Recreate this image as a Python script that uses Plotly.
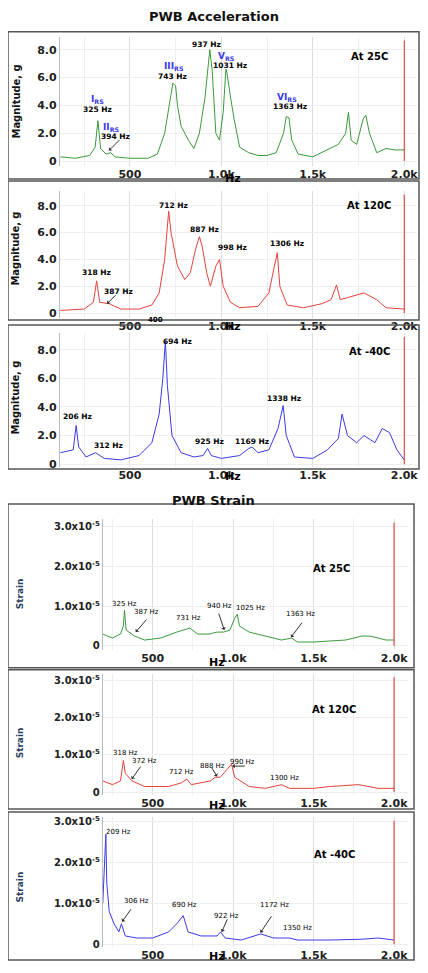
import plotly.graph_objects as go

OFF = 8
W, H = 428 - OFF * 2, 973 - OFF * 2

def fx_(p):
    return (p - OFF) / W

def fy_(p):
    return 1 - (p - OFF) / H

acc25_f = [120,200,280,310,325,340,370,394,420,500,600,650,690,720,735,750,760,780,820,850,880,910,930,937,950,970,990,1010,1025,1031,1050,1070,1100,1150,1200,1250,1300,1340,1355,1370,1385,1420,1500,1580,1640,1680,1695,1710,1740,1775,1790,1810,1850,1900,1950,2000]
acc25_v = [0.3,0.2,0.4,1.0,2.9,0.9,0.5,0.6,0.3,0.2,0.2,0.5,2.0,4.5,5.6,5.4,4.0,2.5,1.5,0.9,2.0,4.5,7.2,8.0,6.5,2.0,1.5,3.5,6.6,6.3,4.6,3.0,1.0,0.6,0.4,0.4,0.6,2.0,3.2,3.1,1.5,0.5,0.3,0.8,1.2,2.0,3.5,1.5,1.2,3.0,3.3,2.0,0.6,0.9,0.8,0.8]
acc120_f = [120,250,300,318,335,387,450,550,620,660,690,712,725,760,800,830,860,880,895,920,940,970,990,1010,1050,1100,1200,1260,1290,1306,1320,1360,1450,1550,1600,1630,1650,1700,1780,1850,1900,2000]
acc120_v = [0.2,0.3,0.8,2.4,0.8,0.7,0.3,0.3,0.6,1.5,4.0,7.6,6.0,3.5,2.5,3.0,4.8,5.7,5.0,3.0,2.0,3.5,4.0,2.0,0.8,0.4,0.5,1.5,3.5,4.5,2.0,0.6,0.4,0.7,1.0,2.1,1.0,1.2,1.5,1.0,0.4,0.3]
accm40_f = [120,190,206,220,260,312,360,450,550,620,660,680,694,705,730,780,850,900,925,945,1000,1100,1150,1169,1200,1260,1310,1338,1355,1400,1500,1580,1640,1660,1690,1740,1780,1840,1880,1920,1960,2000]
accm40_v = [0.8,1.0,2.7,1.2,0.5,0.8,0.4,0.3,0.6,1.5,3.5,6.0,8.6,5.5,2.0,0.8,0.5,0.6,1.1,0.6,0.4,0.6,1.1,1.2,0.8,1.0,2.5,4.1,2.0,0.5,0.4,1.0,1.8,3.5,2.0,1.5,2.0,1.5,2.5,2.2,1.0,0.3]

s25_f = [190,250,300,318,325,335,387,450,550,650,731,780,850,900,940,980,1010,1025,1040,1100,1200,1300,1363,1400,1500,1700,1800,1850,1950,2000]
s25_v = [0.3,0.2,0.3,0.5,0.9,0.4,0.25,0.15,0.2,0.35,0.45,0.3,0.3,0.35,0.35,0.4,0.7,0.8,0.5,0.35,0.25,0.15,0.2,0.1,0.1,0.15,0.25,0.25,0.15,0.15]
s120_f = [190,250,300,318,330,372,450,600,680,712,740,800,860,888,920,960,990,1010,1100,1200,1300,1350,1500,1600,1780,1900,2000]
s120_v = [0.3,0.2,0.3,0.85,0.5,0.3,0.15,0.15,0.25,0.35,0.2,0.25,0.3,0.4,0.4,0.6,0.75,0.4,0.15,0.1,0.2,0.1,0.1,0.15,0.2,0.1,0.1]
sm40_f = [190,200,209,215,230,260,290,306,330,400,500,600,650,690,720,800,900,922,950,1050,1172,1250,1350,1400,1600,1800,1900,2000]
sm40_v = [1.0,2.0,2.7,1.5,0.8,0.5,0.3,0.5,0.2,0.15,0.15,0.3,0.5,0.7,0.3,0.2,0.2,0.3,0.15,0.1,0.25,0.15,0.15,0.1,0.1,0.12,0.15,0.1]

acc_ticks = [0, 2, 4, 6, 8]
acc_tick_text = ["0", "2.0", "4.0", "6.0", "8.0"]
str_ticks = [0, 1, 2, 3]
str_tick_text = ["0", "1.0x10<sup>-5</sup>", "2.0x10<sup>-5</sup>", "3.0x10<sup>-5</sup>"]
x_ticks = [500, 1000, 1500, 2000]
x_tick_text = ["500", "1.0k", "1.5k", "2.0k"]

GREEN, RED, BLUE = "#3a9a3a", "#e8403a", "#3a3ae8"

panels = [
    (acc25_f, acc25_v, GREEN, (60, 418), (117, 2070), (35, 165), 160, 48, 8, "acc"),
    (acc120_f, acc120_v, RED, (60, 418), (117, 2070), (190, 318), 313, 205, 8, "acc"),
    (accm40_f, accm40_v, BLUE, (60, 418), (117, 2070), (333, 468), 465, 350, 8, "acc"),
    (s25_f, s25_v, GREEN, (103, 410), (190, 2093), (520, 652), 648, 528, 3, "str"),
    (s120_f, s120_v, RED, (103, 410), (190, 2093), (676, 798), 795, 683, 3, "str"),
    (sm40_f, sm40_v, BLUE, (103, 410), (190, 2093), (820, 951), 948, 825, 3, "str"),
]

fig = go.Figure()
layout = {}
for i, (xs, vs, col, xpx, xr, ydom, y0, yt, ytv, kind) in enumerate(panels):
    n = "" if i == 0 else str(i + 1)
    fig.add_trace(go.Scatter(x=xs, y=vs, mode="lines", line=dict(color=col, width=1),
                             xaxis="x" + n, yaxis="y" + n, showlegend=False))
    ppu = (y0 - yt) / ytv
    ylo = -(ydom[1] - y0) / ppu
    yhi = (y0 - ydom[0]) / ppu
    layout["xaxis" + n] = dict(domain=[fx_(xpx[0]), min(1, fx_(xpx[1]))], range=list(xr), anchor="y" + n,
                               tickvals=x_ticks, ticktext=["<b>%s</b>" % t for t in x_tick_text], showgrid=True,
                               gridcolor="#dddddd", minor=dict(dtick=250, showgrid=True, gridcolor="#eeeeee"),
                               tickfont=dict(size=11, family="DejaVu Sans", color="#222"),
                               ticks="", zeroline=False, showline=False, ticklabelstandoff=0)
    layout["yaxis" + n] = dict(domain=[fy_(ydom[1]), fy_(ydom[0])], range=[ylo, yhi], anchor="x" + n,
                               tickvals=acc_ticks if kind == "acc" else str_ticks,
                               ticktext=["<b>%s</b>" % t for t in (acc_tick_text if kind == "acc" else str_tick_text)],
                               showgrid=True, gridcolor="#eeeeee", zeroline=False,
                               tickfont=dict(size=11 if kind == "acc" else 10, family="DejaVu Sans", color="#222"),
                               ticks="", showline=True, linecolor="#bbbbbb")
    fig.add_shape(type="line", x0=2000, x1=2000, y0=0, y1=yhi * 0.97, xref="x" + n, yref="y" + n,
                  line=dict(color="#e03030", width=1))

fig.update_layout(**layout)

fr = [(2, 30, 420, 178), (2, 180, 420, 320), (2, 325, 420, 470),
      (5, 505, 415, 670), (5, 672, 415, 812), (5, 815, 415, 964)]
for x0, y0, x1, y1 in fr:
    fig.add_shape(type="rect", xref="paper", yref="paper", x0=fx_(max(x0, OFF)), x1=fx_(x1),
                  y0=fy_(y1), y1=fy_(y0), line=dict(color="#555", width=1.5))

def ann(text, xr, yr, x, y, size=8, color="black", ax=None, ay=None, bold=True):
    t = "<b>%s</b>" % text if bold else text
    d = dict(text=t, xref=xr, yref=yr, x=x, y=y, font=dict(size=size, color=color, family="DejaVu Sans"),
             showarrow=ax is not None, xanchor="center", yanchor="middle")
    if ax is not None:
        d.update(ax=ax, ay=ay, arrowhead=1, arrowsize=0.8, arrowwidth=1, arrowcolor="#333")
    fig.add_annotation(**d)

def pann(text, x, y, **k):
    ann(text, "paper", "paper", fx_(x), fy_(y), **k)

pann("PWB Acceleration", 215, 15, size=13, color="#111")
pann("PWB Strain", 214, 502, size=13, color="#111")
for (px, py, t) in [(370, 55, "At 25C"), (370, 205, "At 120C"), (370, 352, "At -40C"),
                    (332, 570, "At 25C"), (335, 712, "At 120C"), (335, 858, "At -40C")]:
    pann(t, px, py, size=10)
for py in [100, 248, 398]:
    fig.add_annotation(text="<b>Magnitude, g</b>", xref="paper", yref="paper", x=fx_(16), y=fy_(py),
                       textangle=-90, showarrow=False, xanchor="center", yanchor="middle",
                       font=dict(size=11, family="Liberation Sans Narrow, DejaVu Sans Condensed", color="#111"))
for py in [595, 745, 890]:
    fig.add_annotation(text="<b>Strain</b>", xref="paper", yref="paper", x=fx_(20), y=fy_(py),
                       textangle=-90, showarrow=False, xanchor="center", yanchor="middle",
                       font=dict(size=9, family="DejaVu Sans"))
for px, py in [(234, 178), (234, 326), (234, 477), (218, 665), (218, 809), (218, 960)]:
    pann("Hz", px, py, size=11)
pann("400", 156, 320, size=7)

ann("I<sub>RS</sub>", "x", "y", 325, 4.4, size=9, color="#3a3ae8")
ann("325 Hz", "x", "y", 325, 3.7, size=7.5)
ann("II<sub>RS</sub>", "x", "y", 400, 2.4, size=9, color="#3a3ae8")
ann("394 Hz", "x", "y", 420, 1.8, size=7.5)
ann("", "x", "y", 385, 0.75, ax=12, ay=-12)
ann("III<sub>RS</sub>", "x", "y", 740, 6.8, size=9, color="#3a3ae8")
ann("743 Hz", "x", "y", 735, 6.1, size=7.5)
ann("IV<sub>RS</sub>", "x", "y", 925, 9.0, size=9, color="#3a3ae8")
ann("937 Hz", "x", "y", 920, 8.4, size=7.5)
ann("V<sub>RS</sub>", "x", "y", 1030, 7.5, size=9, color="#3a3ae8")
ann("1031 Hz", "x", "y", 1045, 6.9, size=7.5)
ann("VI<sub>RS</sub>", "x", "y", 1360, 4.6, size=9, color="#3a3ae8")
ann("1363 Hz", "x", "y", 1375, 3.9, size=7.5)
ann("712 Hz", "x2", "y2", 740, 8.0, size=7.5)
ann("887 Hz", "x2", "y2", 910, 6.2, size=7.5)
ann("998 Hz", "x2", "y2", 1060, 4.9, size=7.5)
ann("1306 Hz", "x2", "y2", 1360, 5.2, size=7.5)
ann("318 Hz", "x2", "y2", 320, 3.0, size=7.5)
ann("387 Hz", "x2", "y2", 440, 1.6, size=7.5)
ann("", "x2", "y2", 375, 0.7, ax=10, ay=-10)
ann("694 Hz", "x3", "y3", 760, 8.6, size=7.5)
ann("206 Hz", "x3", "y3", 215, 3.3, size=7.5)
ann("312 Hz", "x3", "y3", 385, 1.3, size=7.5)
ann("925 Hz", "x3", "y3", 935, 1.6, size=7.5)
ann("1169 Hz", "x3", "y3", 1170, 1.6, size=7.5)
ann("1338 Hz", "x3", "y3", 1340, 4.6, size=7.5)
ann("325 Hz", "x4", "y4", 325, 1.05, size=7, bold=False)
ann("387 Hz", "x4", "y4", 460, 0.85, size=7, bold=False)
ann("", "x4", "y4", 395, 0.35, ax=12, ay=-14)
ann("731 Hz", "x4", "y4", 720, 0.7, size=7, bold=False)
ann("940 Hz", "x4", "y4", 915, 1.0, size=7, bold=False)
ann("", "x4", "y4", 945, 0.4, ax=-6, ay=-18)
ann("1025 Hz", "x4", "y4", 1110, 0.95, size=7, bold=False)
ann("1363 Hz", "x4", "y4", 1420, 0.8, size=7, bold=False)
ann("", "x4", "y4", 1360, 0.22, ax=12, ay=-16)
ann("318 Hz", "x5", "y5", 330, 1.05, size=7, bold=False)
ann("372 Hz", "x5", "y5", 450, 0.85, size=7, bold=False)
ann("", "x5", "y5", 370, 0.35, ax=10, ay=-14)
ann("712 Hz", "x5", "y5", 680, 0.55, size=7, bold=False)
ann("888 Hz", "x5", "y5", 870, 0.7, size=7, bold=False)
ann("", "x5", "y5", 900, 0.42, ax=-6, ay=-10)
ann("990 Hz", "x5", "y5", 1060, 0.8, size=7, bold=False)
ann("", "x5", "y5", 995, 0.7, ax=14, ay=0)
ann("1300 Hz", "x5", "y5", 1320, 0.38, size=7, bold=False)
ann("209 Hz", "x6", "y6", 290, 2.75, size=7, bold=False)
ann("306 Hz", "x6", "y6", 400, 1.05, size=7, bold=False)
ann("", "x6", "y6", 310, 0.55, ax=10, ay=-14)
ann("690 Hz", "x6", "y6", 700, 0.95, size=7, bold=False)
ann("922 Hz", "x6", "y6", 960, 0.7, size=7, bold=False)
ann("", "x6", "y6", 930, 0.3, ax=6, ay=-14)
ann("1172 Hz", "x6", "y6", 1260, 0.95, size=7, bold=False)
ann("", "x6", "y6", 1170, 0.28, ax=12, ay=-18)
ann("1350 Hz", "x6", "y6", 1400, 0.4, size=7, bold=False)

fig.update_layout(width=W, height=H, margin=dict(l=0, r=0, t=0, b=0),
                  paper_bgcolor="white", plot_bgcolor="white")
fig.write_html("out.html")
